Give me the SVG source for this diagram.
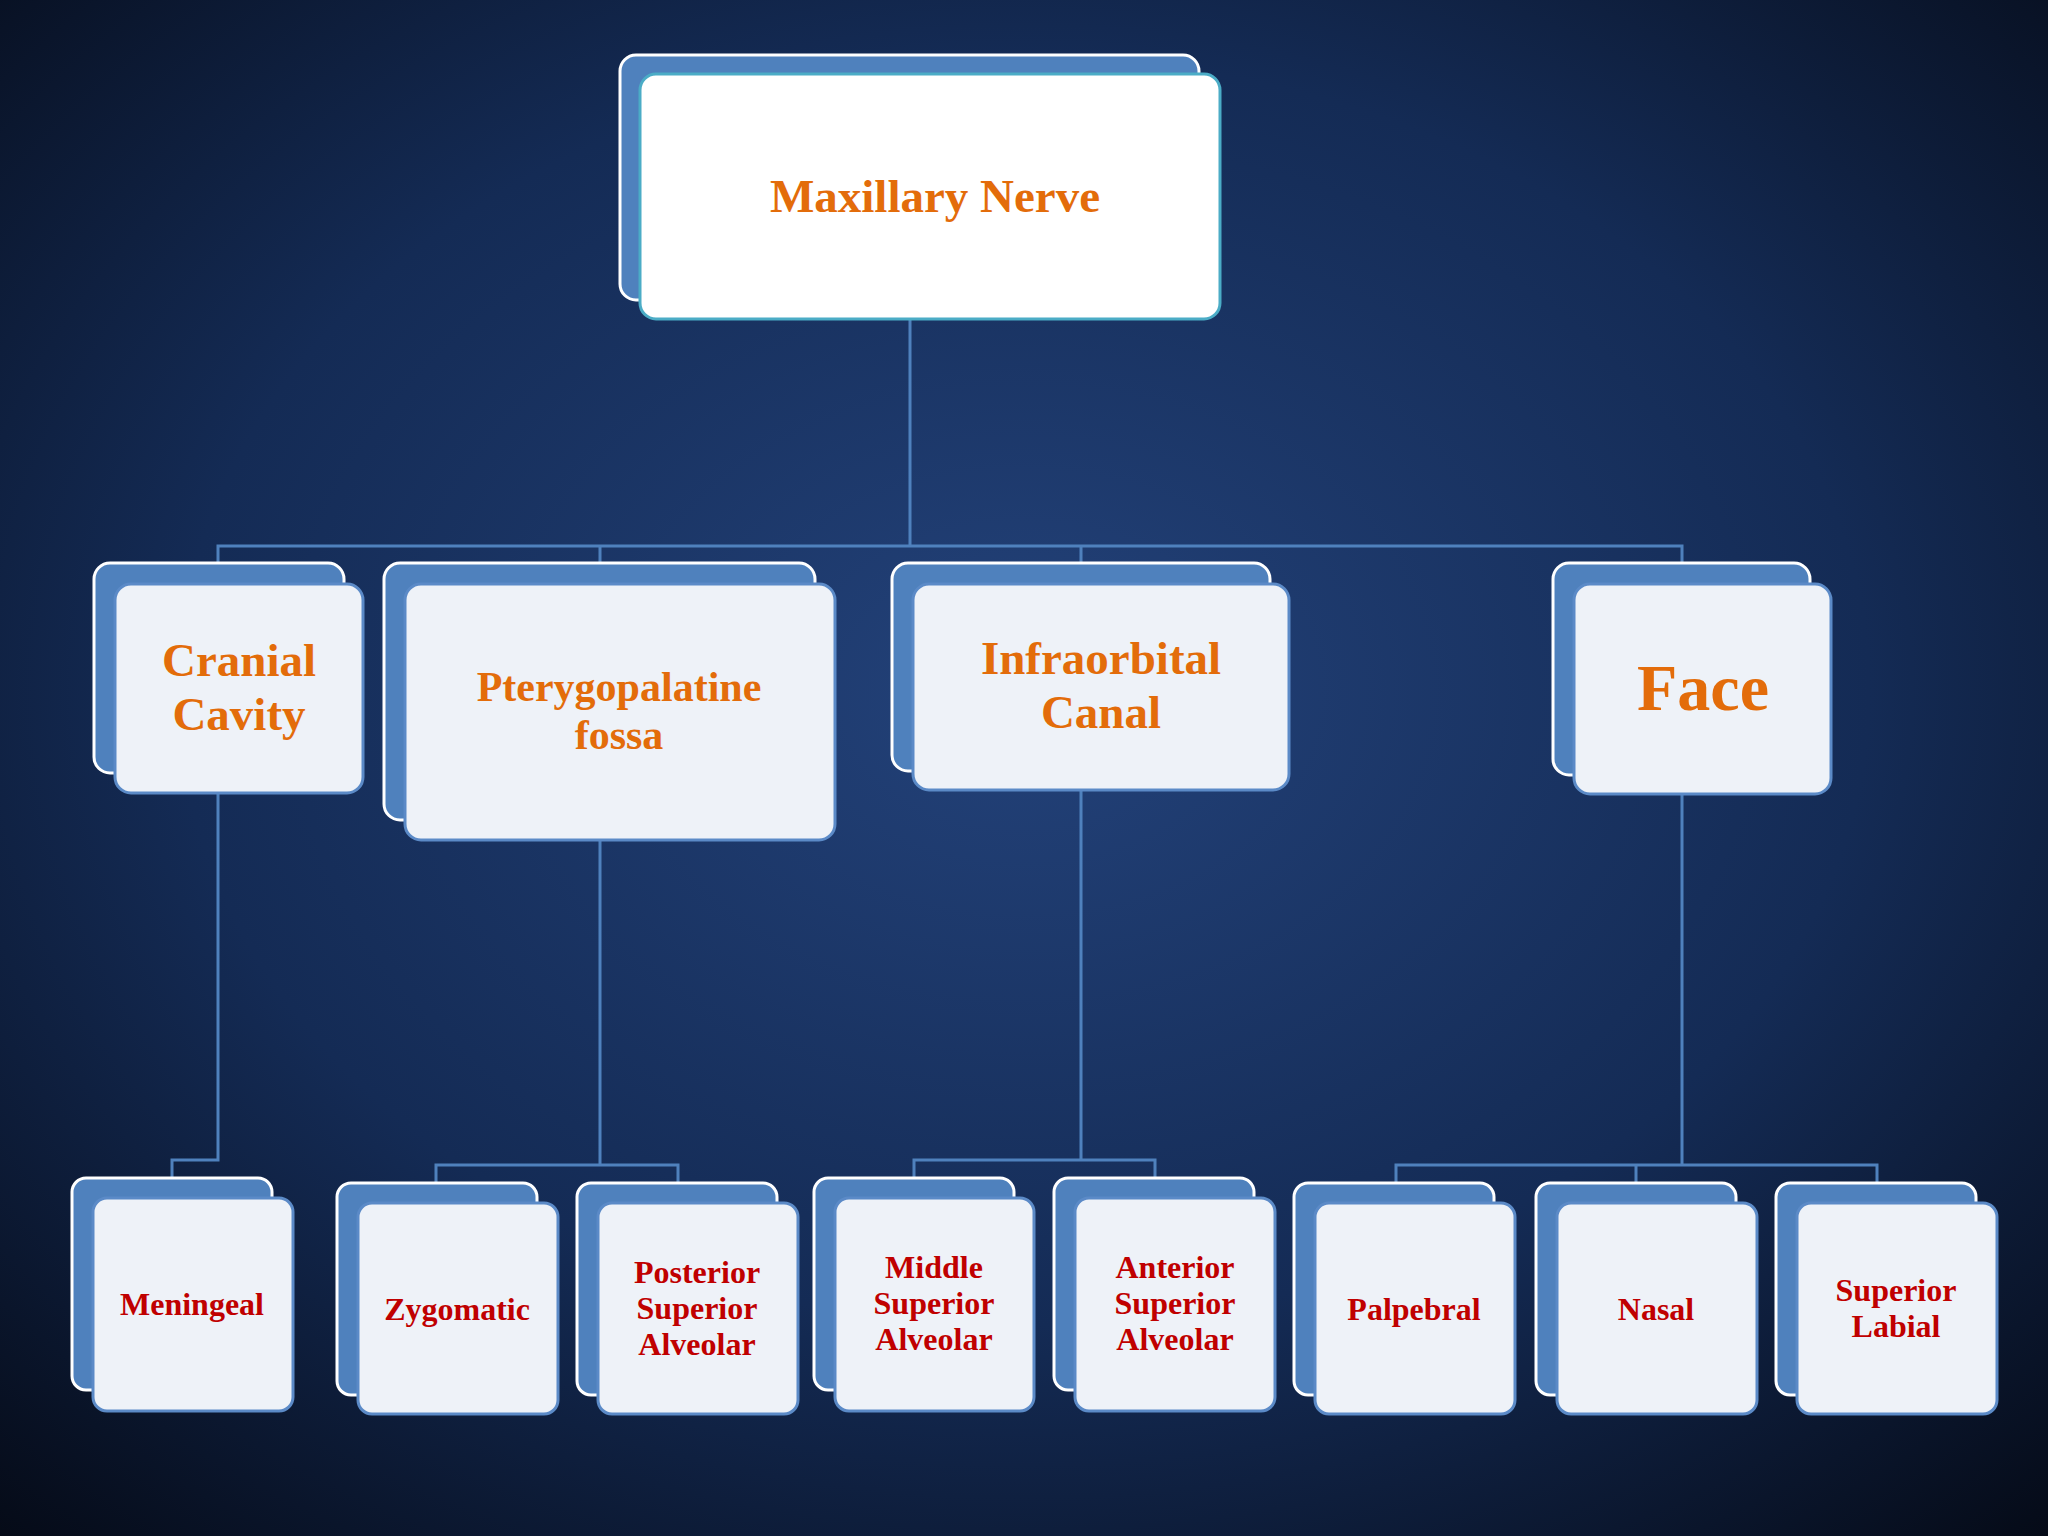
<svg xmlns="http://www.w3.org/2000/svg" width="2048" height="1536" viewBox="0 0 2048 1536">
<defs>
<radialGradient id="bg" cx="0.5" cy="0.45" r="0.75">
<stop offset="0" stop-color="#23427a"/>
<stop offset="0.55" stop-color="#142b55"/>
<stop offset="1" stop-color="#050a16"/>
</radialGradient>
<style>
.back{fill:#4f81bd;stroke:#ffffff;stroke-width:3}
.front{fill:#eef2f8;stroke:#5b8ac7;stroke-width:3}
.root{fill:#ffffff;stroke:#4bacc6;stroke-width:3}
.l1{font-family:"Liberation Serif","DejaVu Serif",serif;font-weight:bold;fill:#e36c0a;text-anchor:middle}
.l2{font-family:"Liberation Serif","DejaVu Serif",serif;font-weight:bold;fill:#c00000;text-anchor:middle;font-size:32px}
.con{fill:none;stroke:#4f81bd;stroke-width:3}
</style>
</defs>
<rect width="2048" height="1536" fill="url(#bg)"/>
<g id="connectors" class="con">
<path d="M910 319V546M218 564V546H1682V564M600 546V564M1081 546V564"/>
<path d="M218 793V1160H172V1178"/>
<path d="M600 840V1165M436 1183V1165H678V1183"/>
<path d="M1081 790V1160M914 1178V1160H1155V1178"/>
<path d="M1682 794V1165M1396 1183V1165H1877V1183M1636 1165V1183"/>
</g>
<g id="maxillary"><rect class="back" x="620" y="55" width="579" height="245" rx="16"/><rect class="root" x="640" y="74" width="580" height="245" rx="16"/><text class="l1" x="935" y="212" font-size="47">Maxillary Nerve</text></g>
<g id="cranial"><rect class="back" x="94" y="563" width="250" height="210" rx="16"/><rect class="front" x="115" y="584" width="248" height="209" rx="16"/><text class="l1" font-size="47" x="239" y="676">Cranial</text><text class="l1" font-size="47" x="239" y="730">Cavity</text></g>
<g id="pterygo"><rect class="back" x="384" y="563" width="431" height="257" rx="16"/><rect class="front" x="405" y="584" width="430" height="256" rx="16"/><text class="l1" font-size="42" x="619" y="701">Pterygopalatine</text><text class="l1" font-size="42" x="619" y="749">fossa</text></g>
<g id="infraorbital"><rect class="back" x="892" y="563" width="378" height="208" rx="16"/><rect class="front" x="913" y="584" width="376" height="206" rx="16"/><text class="l1" font-size="47" x="1101" y="674">Infraorbital</text><text class="l1" font-size="47" x="1101" y="728">Canal</text></g>
<g id="face"><rect class="back" x="1553" y="563" width="257" height="212" rx="16"/><rect class="front" x="1574" y="584" width="257" height="210" rx="16"/><text class="l1" font-size="66" x="1703" y="710">Face</text></g>
<g id="meningeal"><rect class="back" x="72" y="1178" width="200" height="212" rx="14"/><rect class="front" x="93" y="1198" width="200" height="213" rx="14"/><text class="l2" x="192" y="1315">Meningeal</text></g>
<g id="zygomatic"><rect class="back" x="337" y="1183" width="200" height="212" rx="14"/><rect class="front" x="358" y="1203" width="200" height="211" rx="14"/><text class="l2" x="457" y="1320">Zygomatic</text></g>
<g id="psa"><rect class="back" x="577" y="1183" width="200" height="212" rx="14"/><rect class="front" x="598" y="1203" width="200" height="211" rx="14"/><text class="l2" x="697" y="1283">Posterior</text><text class="l2" x="697" y="1319">Superior</text><text class="l2" x="697" y="1355">Alveolar</text></g>
<g id="msa"><rect class="back" x="814" y="1178" width="200" height="212" rx="14"/><rect class="front" x="835" y="1198" width="199" height="213" rx="14"/><text class="l2" x="934" y="1278">Middle</text><text class="l2" x="934" y="1314">Superior</text><text class="l2" x="934" y="1350">Alveolar</text></g>
<g id="asa"><rect class="back" x="1054" y="1178" width="200" height="212" rx="14"/><rect class="front" x="1075" y="1198" width="200" height="213" rx="14"/><text class="l2" x="1175" y="1278">Anterior</text><text class="l2" x="1175" y="1314">Superior</text><text class="l2" x="1175" y="1350">Alveolar</text></g>
<g id="palpebral"><rect class="back" x="1294" y="1183" width="200" height="212" rx="14"/><rect class="front" x="1315" y="1203" width="200" height="211" rx="14"/><text class="l2" x="1414" y="1320">Palpebral</text></g>
<g id="nasal"><rect class="back" x="1536" y="1183" width="200" height="212" rx="14"/><rect class="front" x="1557" y="1203" width="200" height="211" rx="14"/><text class="l2" x="1656" y="1320">Nasal</text></g>
<g id="superior-labial"><rect class="back" x="1776" y="1183" width="200" height="212" rx="14"/><rect class="front" x="1797" y="1203" width="200" height="211" rx="14"/><text class="l2" x="1896" y="1301">Superior</text><text class="l2" x="1896" y="1337">Labial</text></g>
</svg>
